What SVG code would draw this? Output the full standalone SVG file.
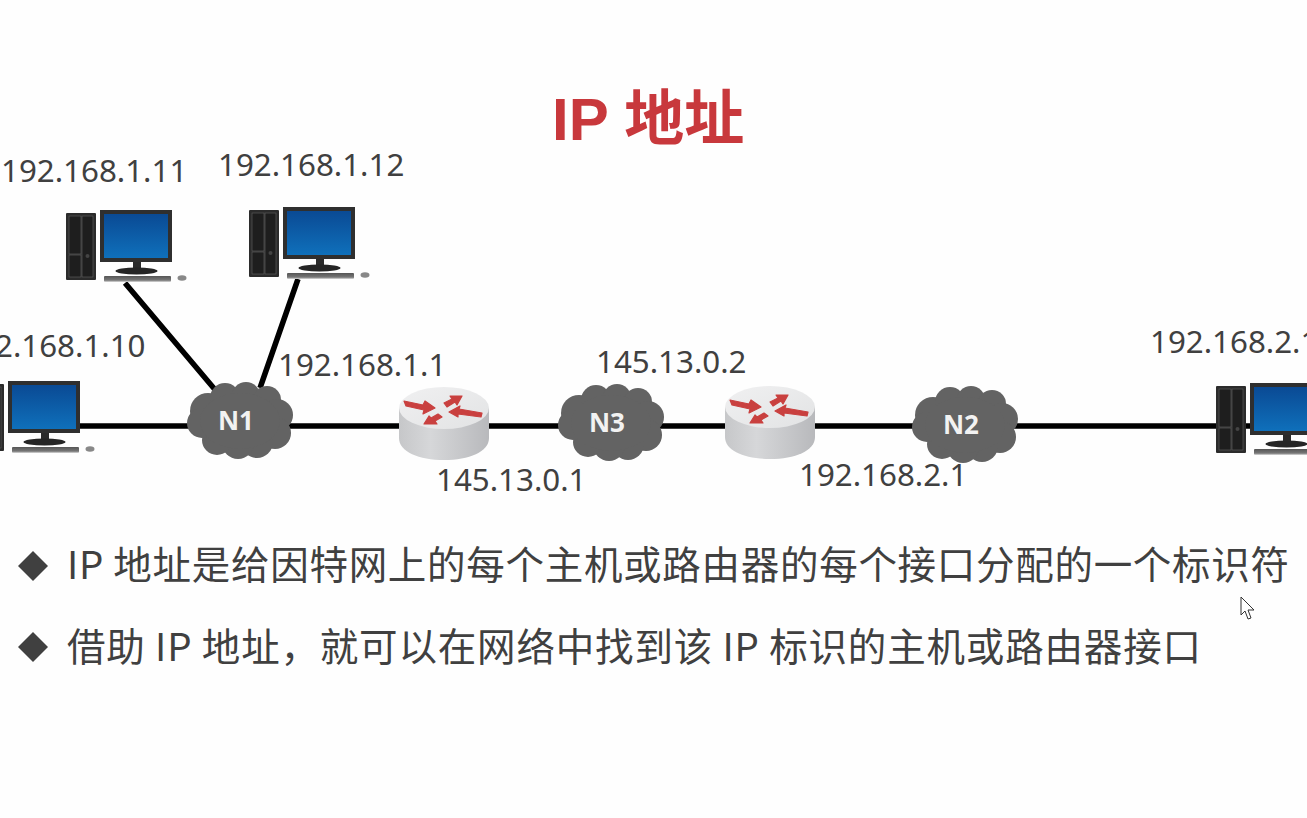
<svg xmlns="http://www.w3.org/2000/svg" width="1307" height="818" viewBox="0 0 1307 818">
<style>
.lbl{font-family:"Noto Sans","Open Sans","Liberation Sans",sans-serif;font-size:31.3px;fill:#404040}
.bul{font-family:"Noto Sans CJK SC","Noto Sans",sans-serif;font-size:38.5px;fill:#404040}
.ttl{font-family:"Liberation Sans","Noto Sans CJK SC",sans-serif;font-size:60px;font-weight:700;fill:#c8383c}
.net{font-family:"Open Sans","Liberation Sans",sans-serif;font-size:26px;font-weight:700;fill:#f2f2f2;text-anchor:middle}
.link{stroke:#000;stroke-width:5.5;fill:none}
.bay{fill:#1e1e1e;stroke:#5a5a5a;stroke-width:.7}
</style>
<defs>
<linearGradient id="scr" x1="0" y1="0" x2="0" y2="1"><stop offset="0" stop-color="#0a4a94"/><stop offset="1" stop-color="#0f70bb"/></linearGradient>
<linearGradient id="rside" x1="0" y1="0" x2="1" y2="0"><stop offset="0" stop-color="#c6c7c9"/><stop offset=".35" stop-color="#d6d7d9"/><stop offset="1" stop-color="#b8b9bc"/></linearGradient>
<linearGradient id="rtop" x1="0" y1="0" x2="1" y2="1"><stop offset="0" stop-color="#f0f0f1"/><stop offset="1" stop-color="#e2e3e4"/></linearGradient>
<linearGradient id="kb" x1="0" y1="0" x2="0" y2="1"><stop offset="0" stop-color="#555"/><stop offset=".7" stop-color="#777"/><stop offset="1" stop-color="#ddd"/></linearGradient>
<g id="pc">
<rect x="0" y="0" width="30" height="67" fill="#2b2b2b" rx="1"/>
<rect x="3" y="3" width="12" height="38" class="bay"/>
<rect x="16" y="3" width="11" height="61" class="bay"/>
<rect x="3" y="42" width="12" height="22" class="bay"/>
<circle cx="21.500" cy="43" r="2" fill="#444"/>
<rect x="34" y="-3" width="72" height="52" fill="#2f2f2f"/>
<rect x="38" y="1" width="64" height="44" fill="url(#scr)"/>
<rect x="67" y="49" width="8" height="8" fill="#2b2b2b"/>
<ellipse cx="70.500" cy="58" rx="21" ry="3.500" fill="#252525"/>
<rect x="38" y="63" width="67" height="6" rx="1" fill="url(#kb)"/>
<ellipse cx="116" cy="65" rx="4.500" ry="2.800" fill="#888"/>
</g>
<g id="cloud" fill="#636363">
<circle cx="-32" cy="-10" r="18"/><circle cx="-15" cy="-23" r="15"/><circle cx="6" cy="-25" r="14"/><circle cx="27" cy="-21" r="14"/>
<circle cx="37" cy="-6" r="16"/><circle cx="35" cy="12" r="16"/><circle cx="17" cy="21" r="16"/><circle cx="-2" cy="22" r="16"/>
<circle cx="-23" cy="19" r="15"/><circle cx="-38" cy="2" r="15"/><ellipse cx="0" cy="0" rx="40" ry="28"/>
</g>
<g id="router">
<path d="M-45 -13V17C-45 31-25 39 0 39S45 31 45 17V-13Z" fill="url(#rside)"/>
<ellipse cx="0" cy="-13" rx="45" ry="21" fill="url(#rtop)"/>
<g fill="#c9403f" stroke="#c9403f" stroke-width="1.2" stroke-linejoin="round">
<path d="M-40 -20L-38 -15L-20 -11L-21 -7L-9 -13L-19 -20L-21 -16Z"/>
<path d="M0 -18L3 -14L11 -19L13 -16L18 -25L6 -25L8 -22Z"/>
<path d="M5 -9L16 -15L15 -12L38 -8L37 -4L14 -7L14 -4Z"/>
<path d="M-20 3L-7 3L-9 0L-2 -4L-6 -7L-13 -3L-15 -5Z"/>
</g>
</g>
</defs>
<rect width="1307" height="818" fill="#fefefe"/>
<text class="ttl" x="552" y="140">IP 地址</text>
<g id="connectors">
<path class="link" d="M80 426H1255M125 283L217 392M298 279L260 388"/>
</g>
<g id="host-192-168-1-11"><use href="#pc" x="66" y="213"/><text class="lbl" x="1" y="182">192.168.1.11</text></g>
<g id="host-192-168-1-12"><use href="#pc" x="249" y="210"/><text class="lbl" x="218" y="176">192.168.1.12</text></g>
<g id="host-192-168-1-10"><use href="#pc" x="-26" y="384"/><text class="lbl" x="-5" y="357">2.168.1.10</text></g>
<g id="host-192-168-2"><use href="#pc" x="1216" y="386"/><text class="lbl" x="1150" y="353">192.168.2.1</text></g>
<g id="N1"><use href="#cloud" x="240" y="421"/><text class="net" x="236" y="430">N1</text></g>
<g id="N3"><use href="#cloud" x="611" y="423"/><text class="net" x="607" y="432">N3</text></g>
<g id="N2"><use href="#cloud" x="965" y="425"/><text class="net" x="961" y="434">N2</text></g>
<g id="router-1"><use href="#router" x="444" y="421"/><text class="lbl" x="278" y="376">192.168.1.1</text><text class="lbl" x="436" y="491">145.13.0.1</text></g>
<g id="router-2"><use href="#router" x="770" y="420"/><text class="lbl" x="596" y="373">145.13.0.2</text><text class="lbl" x="799" y="486">192.168.2.1</text></g>
<path d="M33 551L48 566L33 581L18 566Z" fill="#404040"/>
<path d="M33 632L48 647L33 662L18 647Z" fill="#404040"/>
<text class="bul" x="67" y="579" textLength="1222">IP 地址是给因特网上的每个主机或路由器的每个接口分配的一个标识符</text>
<text class="bul" x="67" y="661" textLength="1134">借助 IP 地址，就可以在网络中找到该 IP 标识的主机或路由器接口</text>
<path d="M1241 597V615L1245 611L1248 619L1251 618L1248 610L1254 610Z" fill="#fff" stroke="#333" stroke-width="1"/>
</svg>
